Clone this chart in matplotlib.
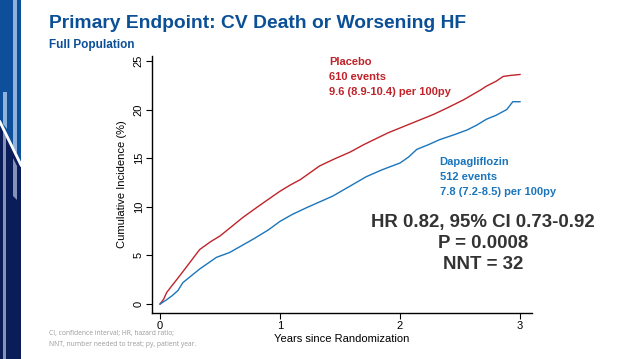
import numpy as np
import matplotlib as mpl
mpl.use('Agg')
import matplotlib.pyplot as pl
from matplotlib.patches import Polygon

pl.rcParams['font.family'] = ['Liberation Sans', 'DejaVu Sans']

# cumulative incidence (%)
years_pla = [0, 0.03, 0.056, 0.1, 0.17, 0.25, 0.33, 0.42, 0.5, 0.6, 0.69, 0.78, 0.86, 0.93, 1.0,
             1.08, 1.17, 1.25, 1.33, 1.45, 1.58, 1.7, 1.8, 1.9, 2.0, 2.1, 2.2, 2.28, 2.4,
             2.53, 2.6, 2.67, 2.72, 2.8, 2.86, 2.92, 3.0]
inc_pla = [0, 0.5, 1.2, 1.9, 3.0, 4.3, 5.6, 6.4, 7.0, 8.0, 8.9, 9.7, 10.4, 11.0, 11.6,
           12.2, 12.8, 13.5, 14.2, 14.9, 15.6, 16.4, 17.0, 17.6, 18.1, 18.6, 19.1, 19.5, 20.2,
           21.0, 21.5, 22.0, 22.4, 22.9, 23.4, 23.5, 23.6]
years_dap = [0, 0.05, 0.1, 0.15, 0.19, 0.26, 0.33, 0.4, 0.47, 0.58, 0.68, 0.78, 0.9, 1.0,
             1.1, 1.22, 1.33, 1.44, 1.58, 1.72, 1.85, 2.0, 2.07, 2.14, 2.24, 2.33, 2.45,
             2.56, 2.64, 2.72, 2.8, 2.89, 2.94, 3.0]
inc_dap = [0, 0.4, 0.85, 1.4, 2.2, 2.9, 3.6, 4.2, 4.8, 5.3, 6.0, 6.7, 7.6, 8.5,
           9.2, 9.9, 10.5, 11.1, 12.1, 13.1, 13.8, 14.5, 15.1, 15.9, 16.4, 16.9, 17.4,
           17.9, 18.4, 19.0, 19.4, 20.0, 20.8, 20.8]

red = '#c0232a'
blue = '#1b75bb'
navyTitle = '#0b4f97'

f = pl.figure(figsize=(6.38, 3.59), dpi=100)

# decorative left bar
bg = f.add_axes([0, 0, 1, 1])
bg.set_xlim(0, 638)
bg.set_ylim(359, 0)
bg.axis('off')
bg.add_patch(Polygon([[0, 0], [21, 0], [21, 163], [0, 120]], color='#0d4f9a', lw=0))
bg.add_patch(Polygon([[0, 124], [21, 167], [21, 359], [0, 359]], color='#0a1d58', lw=0))
bg.plot([0, 21], [122, 165], color='white', lw=2.0)
bg.add_patch(Polygon([[13, 0], [17, 0], [17, 154], [13, 146]], color='#8fb2dc', lw=0))
bg.add_patch(Polygon([[3, 92], [7, 92], [7, 129], [3, 124]], color='#8fb2dc', lw=0))
bg.add_patch(Polygon([[3, 131], [6, 137], [6, 359], [3, 359]], color='#8593b8', lw=0))
bg.add_patch(Polygon([[13, 158], [17, 166], [17, 200], [13, 196]], color='#8593b8', lw=0))

f.text(49 / 638, 1 - 24 / 359, 'Primary Endpoint: CV Death or Worsening HF', color=navyTitle,
       fontsize=13.9, fontweight='bold', va='center', ha='left')
f.text(49 / 638, 1 - 45 / 359, 'Full Population', color=navyTitle,
       fontsize=8.5, fontweight='bold', va='center', ha='left')
f.text(49 / 638, 1 - 339 / 359, 'CI, confidence interval; HR, hazard ratio;\nNNT, number needed to treat; py, patient year.',
       color='#9a9a9a', fontsize=4.9, va='center', ha='left', linespacing=1.75, family='Open Sans')

ax = f.add_axes([152 / 638, 46 / 359, 380 / 638, 257 / 359])
ax.patch.set_alpha(0)
ax.plot(years_pla, inc_pla, color=red, lw=1.0)
ax.plot(years_dap, inc_dap, color=blue, lw=1.0)
ax.set_xlim(-0.067, 3.1)
ax.set_ylim(-0.92, 25.5)
ax.set_xticks([0, 1, 2, 3])
ax.set_yticks([0, 5, 10, 15, 20, 25])
ax.tick_params(axis='y', labelrotation=90, labelsize=8, length=4, width=0.8, pad=2)
ax.tick_params(axis='x', labelsize=8, length=4, width=0.8, pad=2)
for lab in ax.get_yticklabels():
    lab.set_va('center')
ax.spines['top'].set_visible(False)
ax.spines['right'].set_visible(False)
ax.spines['left'].set_linewidth(1.0)
ax.spines['bottom'].set_linewidth(1.0)
ax.set_xlabel('Years since Randomization', fontsize=8, labelpad=2)
ax.set_ylabel('Cumulative Incidence (%)', fontsize=8, labelpad=5)

ax.text(1.41, 25.4, 'Placebo\n610 events\n9.6 (8.9-10.4) per 100py', color=red, fontsize=8,
        fontweight='bold', va='top', ha='left', linespacing=1.62)
ax.text(2.33, 15.1, 'Dapagliflozin\n512 events\n7.8 (7.2-8.5) per 100py', color=blue, fontsize=8,
        fontweight='bold', va='top', ha='left', linespacing=1.62)
ax.text(2.69, 9.3, 'HR 0.82, 95% CI 0.73-0.92\nP = 0.0008\nNNT = 32', color='#333333', fontsize=13.4,
        fontweight='bold', va='top', ha='center', linespacing=1.33)

f.savefig('out.png', dpi=100)
